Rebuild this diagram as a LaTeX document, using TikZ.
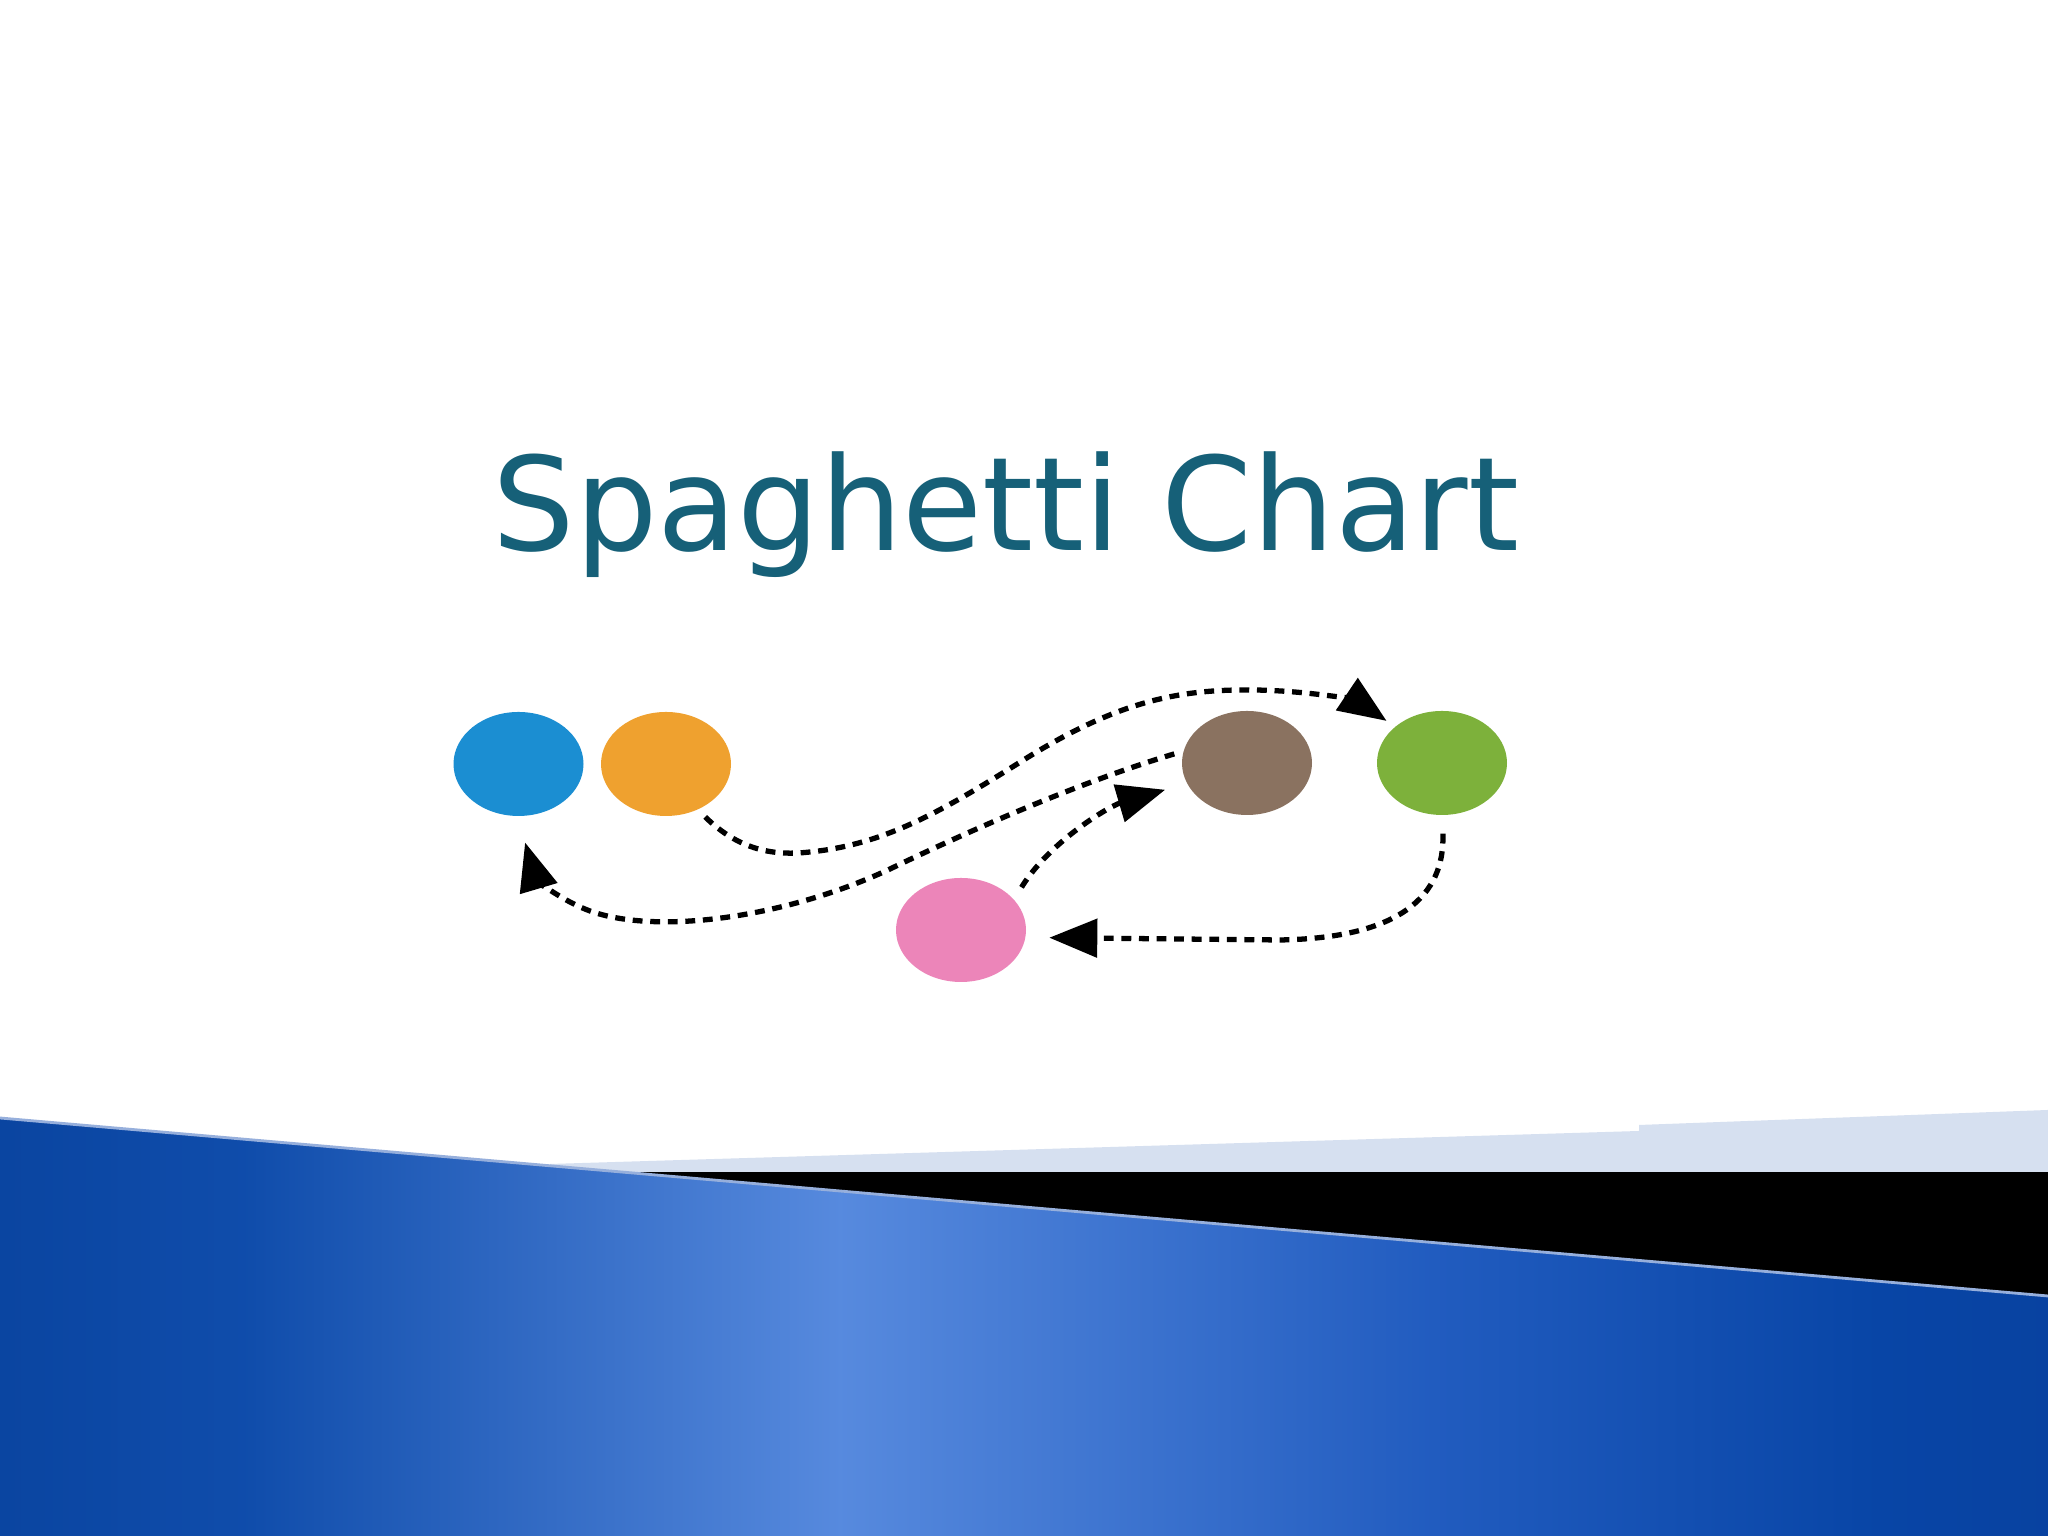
\documentclass[tikz,border=0pt]{standalone}
\usepackage{fontspec}
\newfontfamily\titlefont{DejaVu Sans}
\usetikzlibrary{shapes.geometric,arrows.meta}
\definecolor{titleC}{RGB}{22,96,120}
\definecolor{blueC}{RGB}{27,142,210}
\definecolor{orangeC}{RGB}{239,161,47}
\definecolor{brownC}{RGB}{138,114,96}
\definecolor{greenC}{RGB}{125,177,59}
\definecolor{pinkC}{RGB}{236,133,185}
\definecolor{wedgeC}{RGB}{214,224,240}
\definecolor{bandEdge}{RGB}{150,175,220}
\pgfdeclarehorizontalshading{bandshade}{100bp}{%
  rgb(0bp)=(0.04,0.27,0.63);
  rgb(25bp)=(0.04,0.27,0.63);
  rgb(31bp)=(0.06,0.30,0.67);
  rgb(45.5bp)=(0.34,0.54,0.87);
  rgb(60bp)=(0.13,0.36,0.75);
  rgb(71bp)=(0.03,0.27,0.65);
  rgb(75bp)=(0.03,0.26,0.63);
  rgb(100bp)=(0.03,0.26,0.63)}
\tikzset{
  spot/.style={ellipse, minimum width=1.3cm, minimum height=1.04cm, inner sep=0pt, draw=none},
  flow/.style={line width=1.5pt, dash pattern=on 2.8pt off 2.2pt, -{Triangle[length=4.8mm,width=3.8mm]}},
  titlestyle/.style={font=\titlefont\fontsize{37pt}{44pt}\selectfont, text=titleC, inner sep=0pt}
}
\begin{document}
\begin{tikzpicture}
\useasboundingbox (0,0) rectangle (20.48,15.36);
\fill[white] (0,0) rectangle (20.48,15.36);
% bottom band
\fill[wedgeC] (5.5,3.6) -- (5.5,3.72) -- (16.39,4.05) -- (16.39,4.11) -- (20.48,4.26) -- (20.48,3.6) -- cycle;
\fill[black] (5,2.3) rectangle (20.48,3.64);
\begin{scope}
\clip (0,4.18) -- (20.48,2.40) -- (20.48,0) -- (0,0) -- cycle;
\shade[shading=bandshade] (0,0) rectangle (20.48,4.3);
\end{scope}
\draw[bandEdge, line width=0.8pt] (0,4.18) -- (20.48,2.40);
% title
\node[titlestyle, anchor=base] (title) at (10.06,9.85) {Spaghetti Chart};
% spots
\node[spot, fill=blueC] (blue) at (5.185,7.72) {};
\node[spot, fill=orangeC] (orange) at (6.66,7.72) {};
\node[spot, fill=brownC] (brown) at (12.47,7.73) {};
\node[spot, fill=greenC] (green) at (14.42,7.73) {};
\node[spot, fill=pinkC] (pink) at (9.61,6.06) {};
% flows
\draw[flow] ([shift={(0.07,-0.07)}]orange.-55) .. controls (7.4,6.85) and (7.75,6.8) .. (8.10,6.84)
  .. controls (8.9,6.92) and (9.5,7.3) .. (10.3,7.8)
  .. controls (11.2,8.35) and (11.8,8.47) .. (12.54,8.46)
  .. controls (13.2,8.45) and (13.6,8.33) .. ([shift={(-0.1,0.04)}]green.140);
\draw[flow] ([shift={(-0.08,0)}]brown.172) .. controls (11.0,7.6) and (10.0,7.2) .. (8.9,6.67)
  .. controls (7.9,6.2) and (6.6,6.0) .. (5.9,6.25)
  .. controls (5.55,6.38) and (5.35,6.6) .. ([shift={(0.02,-0.26)}]blue.-85);
\draw[flow] ([shift={(0.11,0.08)}]pink.35) .. controls (10.5,6.95) and (11.1,7.3) .. ([shift={(-0.22,-0.05)}]brown.200);
\draw[flow] ([shift={(0,-0.18)}]green.-89) .. controls (14.45,6.4) and (14.0,5.98) .. (12.8,5.96)
  -- ([shift={(0.23,-0.02)}]pink.-5);
\end{tikzpicture}
\end{document}
